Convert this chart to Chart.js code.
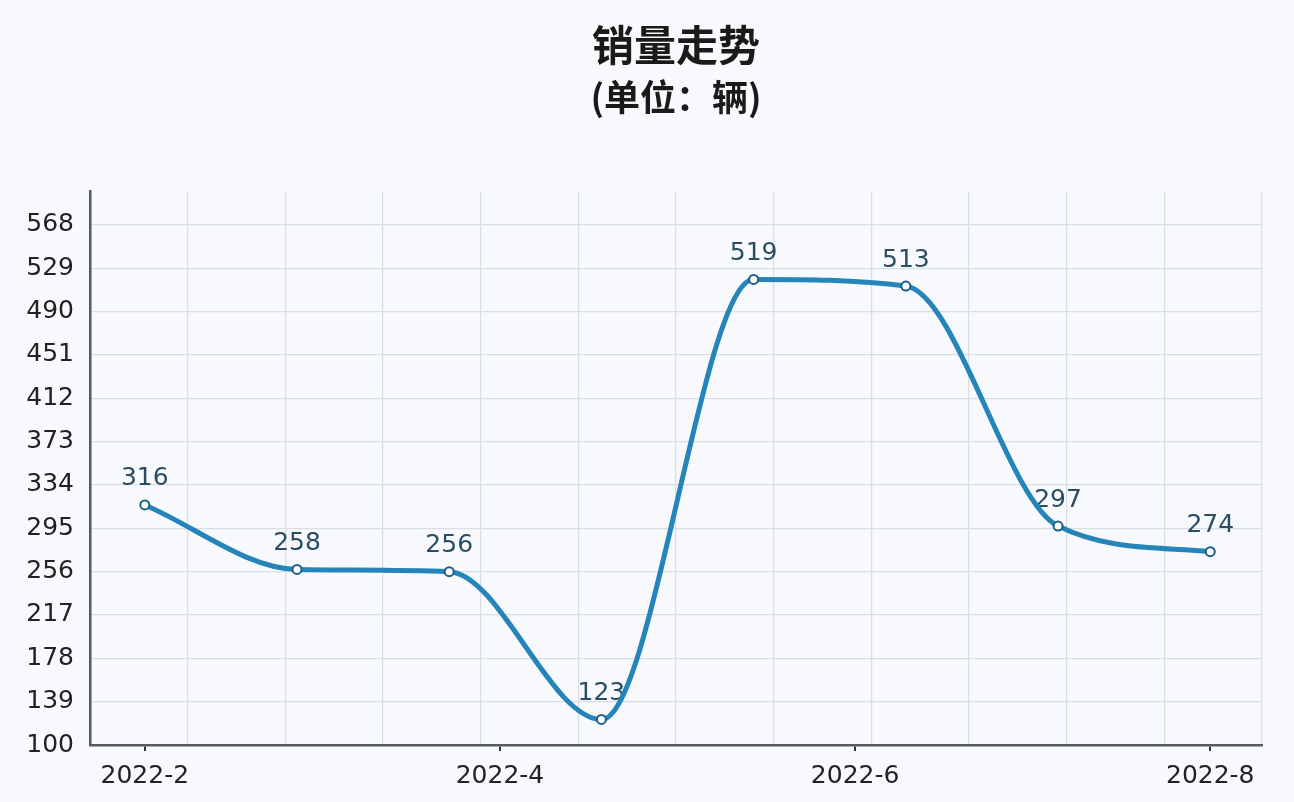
<!DOCTYPE html>
<html>
<head>
<meta charset="utf-8">
<script src="https://cdn.jsdelivr.net/npm/chart.js@4/dist/chart.umd.min.js"></script>
<style>
html,body{margin:0;padding:0;background:#f7f9fc;}
#wrap{width:1294px;height:802px;}
</style>
</head>
<body>
<div id="wrap"><canvas id="c" width="1294" height="802"></canvas></div>
<script>
const titleText = '销量走势';
const subtitleText = '(单位：辆)';
const pointIndex = [0,1,2,3,4,5,6,7];
const salesValues = [316,258,256,123,519,513,297,274];
const xTickPositions = [0, 7/3, 14/3, 7];
const xTickLabels = ['2022-2','2022-4','2022-6','2022-8'];
const yTickValues = [100,139,178,217,256,295,334,373,412,451,490,529,568];

const bgPlugin = {
  id:'bg',
  beforeDraw(chart){
    const ctx = chart.ctx;
    ctx.save();
    ctx.fillStyle = '#f7f9fc';
    ctx.fillRect(0,0,chart.width,chart.height);
    ctx.restore();
  }
};
const labelPlugin = {
  id:'pointLabels',
  beforeDatasetsDraw(chart){
    const ctx = chart.ctx;
    const meta = chart.getDatasetMeta(0);
    ctx.save();
    ctx.font = '25px "DejaVu Sans"';
    ctx.fillStyle = '#2b4d63';
    ctx.textAlign = 'center';
    ctx.textBaseline = 'middle';
    meta.data.forEach((pt,i)=>{
      ctx.fillText(String(salesValues[i]), pt.x, pt.y - 26);
    });
    ctx.restore();
  }
};

new Chart(document.getElementById('c'), {
  type:'line',
  data:{
    datasets:[{
      data: pointIndex.map((x,i)=>({x:x, y:salesValues[i]})),
      borderColor:'#2585ba',
      borderWidth:5,
      cubicInterpolationMode:'monotone',
      pointRadius:4.5,
      pointBorderWidth:2,
      pointBorderColor:'#1d5f86',
      pointBackgroundColor:'#ffffff',
      fill:false
    }]
  },
  options:{
    responsive:false,
    animation:false,
    layout:{padding:{left:0,right:32,top:0,bottom:0}},
    plugins:{
      legend:{display:false},
      tooltip:{enabled:false},
      title:{display:true,fullSize:false,text:titleText,color:'#1a1a1a',
        font:{family:'"Noto Sans CJK SC"',size:42,weight:'bold',lineHeight:1.2},
        padding:{top:20,bottom:5}},
      subtitle:{display:true,fullSize:false,text:subtitleText,color:'#1a1a1a',
        font:{family:'"Noto Sans CJK SC"',size:36,weight:'bold',lineHeight:1.2},
        padding:{top:0,bottom:73}}
    },
    scales:{
      x:{
        type:'linear',
        min:-0.36, max:7.34,
        afterBuildTicks(s){ s.ticks = xTickPositions.map(v=>({value:v})); },
        afterFit(s){ s.height = 57; },
        ticks:{
          callback:(v,i)=>xTickLabels[i],
          font:{family:'"DejaVu Sans"',size:25},
          color:'#222222',
          padding:10,
          maxRotation:0,autoSkip:false
        },
        grid:{drawOnChartArea:false,drawTicks:true,tickLength:6,color:'#333333',lineWidth:2},
        border:{display:true,color:'#555a63',width:2.5}
      },
      x2:{
        type:'linear',
        position:'top',
        min:-0.36, max:7.34,
        afterBuildTicks(s){
          const t=[]; for(let k=0;k<=12;k++){ t.push({value:s.min+(s.max-s.min)*k/12}); }
          s.ticks=t;
        },
        afterFit(s){ s.height = 0; },
        ticks:{display:false},
        grid:{drawTicks:false,tickLength:0,color:'#d9dee5',lineWidth:1.2},
        border:{display:false}
      },
      y:{
        min:100, max:598,
        afterBuildTicks(s){ s.ticks = yTickValues.map(v=>({value:v})); },
        afterFit(s){ s.width = 90; },
        ticks:{
          font:{family:'"DejaVu Sans"',size:25},
          color:'#222222',
          padding:16
        },
        grid:{drawTicks:false,tickLength:0,color:'#d9dee5',lineWidth:1.2},
        border:{display:true,color:'#555a63',width:2.5}
      }
    }
  },
  plugins:[bgPlugin,labelPlugin]
});
</script>
</body>
</html>
